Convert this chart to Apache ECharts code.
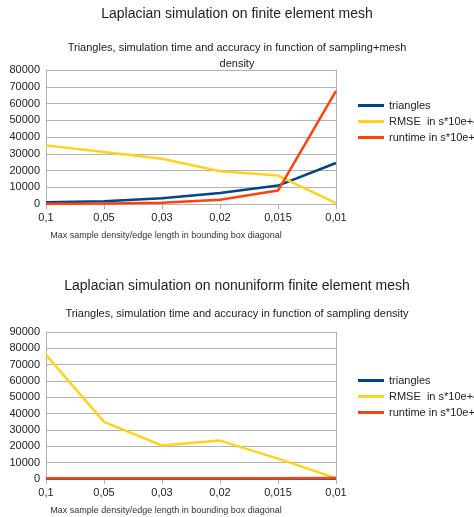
<!DOCTYPE html><html><head><meta charset="utf-8">
<script src="https://cdn.jsdelivr.net/npm/echarts@6/dist/echarts.min.js"></script>
<style>html,body{margin:0;padding:0;background:#fff}#c{width:474px;height:517px}</style></head><body><div id="c"></div><script>
const categories=['0,1','0,05','0,03','0,02','0,015','0,01'];
const topTriangles=[1000,1600,3500,6500,11000,24500];
const topRMSE=[35000,31000,27000,19500,17000,500];
const topRuntime=[100,300,800,2500,8000,67500];
const botTriangles=[300,300,300,300,300,300];
const botRMSE=[76000,35000,20500,23500,12500,500];
const botRuntime=[400,400,400,400,400,600];
const names=['triangles','RMSE  in s*10e+4','runtime in s*10e+4'];
const colors=['#004586','#ffd320','#ff420e'];
const font='Liberation Sans';
const chart=echarts.init(document.getElementById('c'));
const xa=(i)=>({type:'category',gridIndex:i,data:categories,boundaryGap:false,
 axisLine:{lineStyle:{color:'#b3b3b3'}},axisTick:{show:true,length:5,lineStyle:{color:'#b3b3b3'}},
 axisLabel:{color:'#222',fontSize:11,fontFamily:font,margin:8},splitLine:{show:false},
 name:'Max sample density/edge length in bounding box diagonal',nameLocation:'middle',nameGap:27,
 nameTextStyle:{color:'#333',fontSize:9,fontFamily:font,padding:[0,50,0,0]}});
const ya=(i,max)=>({type:'value',gridIndex:i,min:0,max:max,interval:10000,
 axisLabel:{color:'#222',fontSize:11,fontFamily:font,margin:6,formatter:v=>String(v)},
 splitLine:{lineStyle:{color:'#b3b3b3'}},axisLine:{show:true,lineStyle:{color:'#b3b3b3'}}});
const ya2=(i,max)=>({type:'value',gridIndex:i,min:0,max:max,position:'right',axisLabel:{show:false},splitLine:{show:false},axisTick:{show:false},axisLine:{show:true,lineStyle:{color:'#b3b3b3'}}});
const ser=(i,arr)=>arr.map((d,k)=>({type:'line',name:names[k],xAxisIndex:i,yAxisIndex:i,data:d,symbol:'none',
 lineStyle:{width:2.5,color:colors[k]},itemStyle:{color:colors[k]}}));
const legG=(top)=>[0,1,2].map(k=>({type:'group',left:358,top:top+k*16,children:[
 {type:'rect',shape:{x:0,y:4,width:26,height:3},style:{fill:colors[k]}},
 {type:'text',style:{x:31,y:0,text:names[k],fontSize:11,fontFamily:font,fill:'#222'}}]}));
chart.setOption({animation:false,
 title:[{text:'Laplacian simulation on finite element mesh',left:'center',top:2,textStyle:{fontSize:14,fontWeight:'normal',fontFamily:font,color:'#222'}},
  {text:'Triangles, simulation time and accuracy in function of sampling+mesh\ndensity',left:'center',top:35,textStyle:{fontSize:11,fontWeight:'normal',fontFamily:font,color:'#222',lineHeight:16}},
  {text:'Laplacian simulation on nonuniform finite element mesh',left:'center',top:274,textStyle:{fontSize:14,fontWeight:'normal',fontFamily:font,color:'#222'}},
  {text:'Triangles, simulation time and accuracy in function of sampling density',left:'center',top:303,textStyle:{fontSize:11,fontWeight:'normal',fontFamily:font,color:'#222'}}],
 grid:[{left:46,top:70,width:290,height:134},{left:46,top:332,width:290,height:147}],
 xAxis:[xa(0),xa(1)],yAxis:[ya(0,80000),ya(1,90000),ya2(0,80000),ya2(1,90000)],
 series:[...ser(0,[topTriangles,topRMSE,topRuntime]),...ser(1,[botTriangles,botRMSE,botRuntime])],
 graphic:[...legG(100),...legG(375)]
});
</script></body></html>
